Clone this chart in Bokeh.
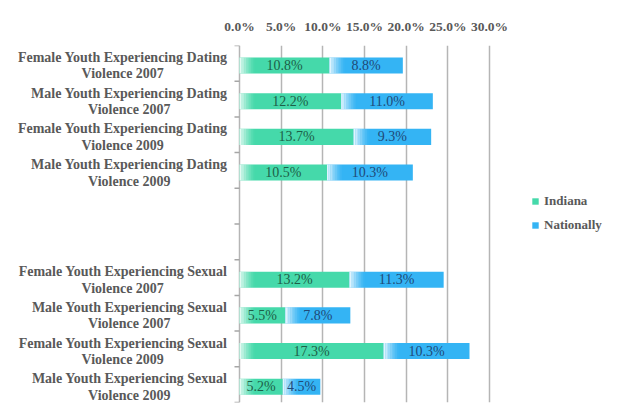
from bokeh.plotting import figure
from bokeh.models import Range1d, FixedTicker, Legend, LegendItem, ColumnDataSource
from bokeh.core.properties import value
from bokeh.embed import file_html
from bokeh.resources import INLINE

# ---- data ----
categories = [
    "Female Youth Experiencing Dating\nViolence 2007",
    "Male Youth Experiencing Dating\nViolence 2007",
    "Female Youth Experiencing Dating\nViolence 2009",
    "Male Youth Experiencing Dating\nViolence 2009",
    "",
    "",
    "Female Youth Experiencing Sexual\nViolence 2007",
    "Male Youth Experiencing Sexual\nViolence 2007",
    "Female Youth Experiencing Sexual\nViolence 2009",
    "Male Youth Experiencing Sexual\nViolence 2009",
]
indiana = [10.8, 12.2, 13.7, 10.5, None, None, 13.2, 5.5, 17.3, 5.2]
nationally = [8.8, 11.0, 9.3, 10.3, None, None, 11.3, 7.8, 10.3, 4.5]
series_names = ["Indiana", "Nationally"]
x_ticks = [0, 5, 10, 15, 20, 25, 30]
x_tick_labels = ["0.0%", "5.0%", "10.0%", "15.0%", "20.0%", "25.0%", "30.0%"]

# ---- styles ----
IND_COLOR = "#45d9aa"
NAT_COLOR = "#34b4f4"
IND_TEXT = "#1d5f47"
NAT_TEXT = "#1f4a78"
GREY_TEXT = "#595959"
GRID = "#b5b5b5"
SERIF = "Liberation Serif"

W, H = 604, 404
ZERO_X = 239          # pixel position of 0 %
TOP, BOTTOM = 45, 2
px_per_unit = 250 / 30.0
n = len(categories)

p = figure(width=W, height=H,
           x_range=Range1d(-ZERO_X / px_per_unit, (W - ZERO_X) / px_per_unit),
           y_range=Range1d(n, 0), y_axis_type=None,
           output_backend="svg", toolbar_location=None, x_axis_location="above",
           min_border_left=0, min_border_right=0, min_border_top=TOP,
           min_border_bottom=BOTTOM)
p.outline_line_color = None
p.background_fill_color = "white"

# top axis
xa = p.xaxis[0]
xa.ticker = FixedTicker(ticks=x_ticks)
xa.major_label_overrides = {t: lab for t, lab in zip(x_ticks, x_tick_labels)}
xa.axis_line_color = None
xa.major_tick_line_color = None
xa.minor_tick_line_color = None
xa.major_tick_out = 0
xa.major_tick_in = 0
xa.major_label_standoff = 12
xa.major_label_text_font = SERIF
xa.major_label_text_font_style = "bold"
xa.major_label_text_font_size = "13.5px"
xa.major_label_text_color = GREY_TEXT

p.xgrid.ticker = FixedTicker(ticks=x_ticks)
p.xgrid.grid_line_color = GRID
p.xgrid.grid_line_width = 1.5

# category boundary ticks on the 0 % axis line
tick_len = 5 / px_per_unit
bounds = list(range(n + 1))
p.segment(x0=[0] * len(bounds), x1=[-tick_len] * len(bounds), y0=bounds, y1=bounds,
          line_color="#a6a6a6", line_width=1.5)

# ---- bars ----
rows = [i for i, v in enumerate(indiana) if v is not None]
y_shift = 0.06
src = ColumnDataSource(dict(
    y=[i + 0.5 + y_shift for i in rows],
    ind=[indiana[i] for i in rows],
    nat_left=[indiana[i] for i in rows],
    nat_right=[indiana[i] + nationally[i] for i in rows],
    ind_mid=[indiana[i] / 2 for i in rows],
    nat_mid=[indiana[i] + nationally[i] / 2 for i in rows],
    ind_lbl=["%.1f%%" % indiana[i] for i in rows],
    nat_lbl=["%.1f%%" % nationally[i] for i in rows],
))
bar_h = 0.45
r_ind = p.hbar(y="y", left=0, right="ind", height=bar_h, source=src,
               fill_color=IND_COLOR, line_color=None)
r_nat = p.hbar(y="y", left="nat_left", right="nat_right", height=bar_h, source=src,
               fill_color=NAT_COLOR, line_color=None)

# light fade at the start of each segment
strip = 0.2
fade = [0.85, 0.72, 0.6, 0.48, 0.37, 0.27, 0.18, 0.1, 0.04]
for k, a in enumerate(fade):
    for col in ("ind", "nat"):
        lefts = [0 if col == "ind" else indiana[i] for i in rows]
        fs = ColumnDataSource(dict(
            y=[i + 0.5 + y_shift for i in rows],
            l=[v + k * strip for v in lefts],
            r=[v + (k + 1) * strip for v in lefts],
        ))
        p.hbar(y="y", left="l", right="r", height=bar_h, source=fs,
               fill_color="white", fill_alpha=a, line_color=None)

p.text(x="ind_mid", y="y", text="ind_lbl", source=src, text_font=value(SERIF),
       text_font_size="14px", text_color=IND_TEXT, text_align="center",
       text_baseline="middle")
p.text(x="nat_mid", y="y", text="nat_lbl", source=src, text_font=value(SERIF),
       text_font_size="14px", text_color=NAT_TEXT, text_align="center",
       text_baseline="middle")

# ---- category labels (two centred lines, block right-aligned) ----
right_x = (227 - ZERO_X) / px_per_unit
char_w = 6.55
lab_rows = [i for i, c in enumerate(categories) if c]
l1s = [categories[i].split("\n")[0] for i in lab_rows]
l2s = [categories[i].split("\n")[1] for i in lab_rows]
lab_src = ColumnDataSource(dict(
    y=[i + 0.5 + y_shift for i in lab_rows],
    l1=l1s,
    l2=l2s,
    x1=[right_x] * len(lab_rows),
    x2=[right_x - len(s) * char_w / 2 / px_per_unit for s in l1s],
))
p.text(x="x1", y="y", text="l1", source=lab_src, y_offset=-8, text_align="right",
       text_baseline="middle", text_font=value(SERIF), text_font_style="bold",
       text_font_size="14px", text_color=GREY_TEXT)
p.text(x="x2", y="y", text="l2", source=lab_src, y_offset=8.5, text_align="center",
       text_baseline="middle", text_font=value(SERIF), text_font_style="bold",
       text_font_size="14px", text_color=GREY_TEXT)

# ---- legend ----
legend = Legend(items=[LegendItem(label=series_names[0], renderers=[r_ind]),
                       LegendItem(label=series_names[1], renderers=[r_nat])],
                location=(531, 167), padding=0, margin=0, spacing=4,
                glyph_width=8, glyph_height=8, label_height=20, label_standoff=5,
                border_line_color=None, background_fill_alpha=0,
                label_text_font=SERIF, label_text_font_style="bold",
                label_text_font_size="13px", label_text_color=GREY_TEXT)
p.add_layout(legend)

open("out.html", "w").write(file_html(p, INLINE))
